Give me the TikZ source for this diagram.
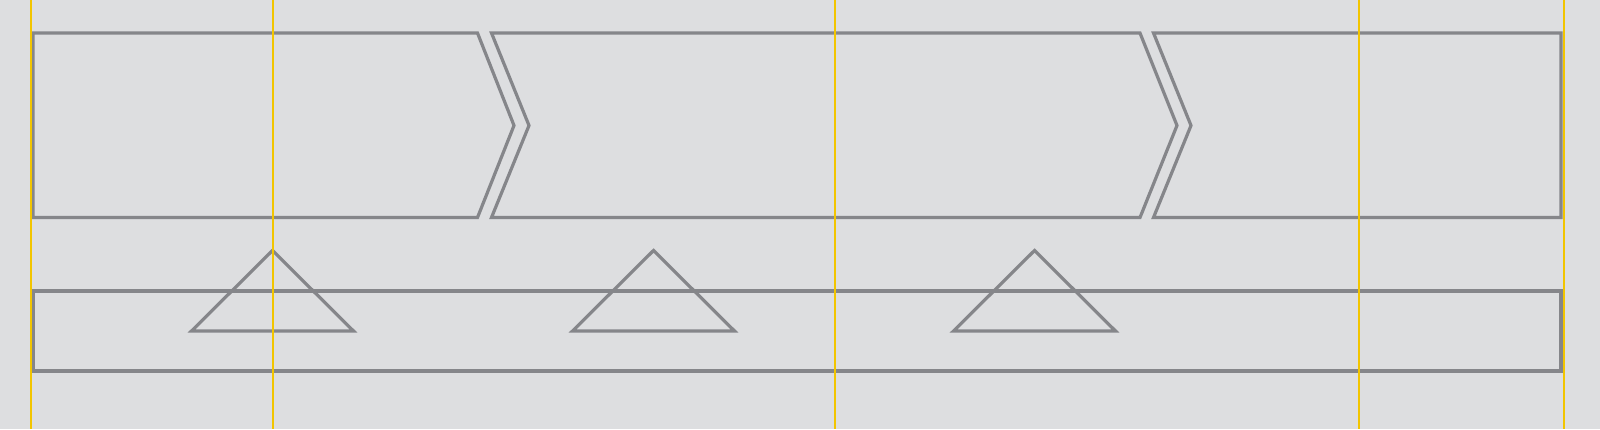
\documentclass[tikz,border=0pt]{standalone}
\begin{document}
\begin{tikzpicture}[x=1pt,y=-1pt,
  shapeline/.style={draw=linegray,line width=3.2pt,line join=miter},
  guide/.style={draw=guideyellow,line width=2pt}]
\definecolor{bggray}{HTML}{DDDEE0}
\definecolor{linegray}{HTML}{85868A}
\definecolor{guideyellow}{HTML}{F2C500}
\fill[bggray] (0,0) rectangle (1600,429);
\useasboundingbox (0,0) rectangle (1600,429);
% chevrons
\draw[shapeline] (33,33) -- (477.5,33) -- (514,125.5) -- (477.5,217.5) -- (33,217.5) -- cycle;
\draw[shapeline] (491.5,33) -- (1140,33) -- (1177,125.5) -- (1140,217.5) -- (491.5,217.5) -- (529,125.5) -- cycle;
\draw[shapeline] (1153.5,33) -- (1561,33) -- (1561,217.5) -- (1153.5,217.5) -- (1191,125.5) -- cycle;
% bottom bar
\draw[shapeline] (33,291) rectangle (1561,371);
% triangles
\foreach \c in {272.5,653.5,1034.5}{
  \draw[shapeline] (\c,250.5) -- ({\c+81},331) -- ({\c-81},331) -- cycle;
}
% guides
\foreach \gx in {30.5,272.5,835,1358.5,1564}{
  \draw[guide] (\gx,0) -- (\gx,429);
}
\end{tikzpicture}
\end{document}
